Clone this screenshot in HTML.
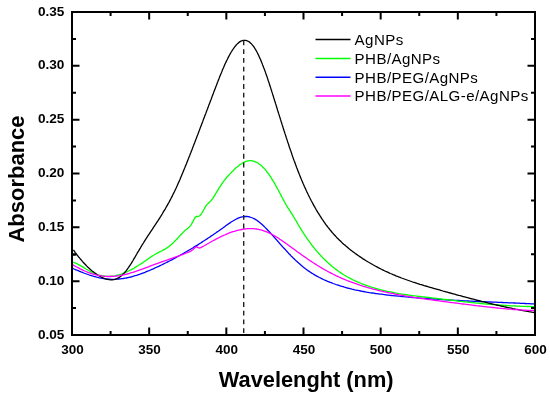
<!DOCTYPE html>
<html><head><meta charset="utf-8"><style>
html,body{margin:0;padding:0;background:#fff;}
body{width:550px;height:395px;overflow:hidden;}
svg{display:block;}
.b{font-family:"Liberation Sans",Arial,sans-serif;font-weight:bold;}
.r{font-family:"Liberation Sans",Arial,sans-serif;}
</style></head><body>
<svg width="550" height="395" viewBox="0 0 550 395">
<rect width="550" height="395" fill="#fff"/>
<g fill="none" stroke-linejoin="round" stroke-linecap="butt" stroke-width="1.3">
<path d="M72.7 268.3L74.1 269.0L75.4 269.6L76.8 270.2L78.2 270.7L79.6 271.3L81.0 271.9L82.4 272.4L83.8 273.0L85.2 273.5L86.6 274.0L88.0 274.5L89.4 275.0L90.8 275.4L92.2 275.9L93.7 276.3L95.1 276.7L96.6 277.1L98.0 277.4L99.5 277.8L101.0 278.1L102.4 278.3L103.9 278.6L105.4 278.8L106.9 278.9L108.4 279.1L109.9 279.2L111.4 279.3L112.9 279.3L114.4 279.3L115.9 279.2L117.4 279.2L118.9 279.0L120.3 278.9L121.8 278.7L123.3 278.5L124.8 278.2L126.3 278.0L127.8 277.6L129.2 277.3L130.7 277.0L132.1 276.6L133.6 276.2L135.0 275.7L136.5 275.3L137.9 274.8L139.3 274.4L140.7 273.9L142.1 273.3L143.6 272.8L145.0 272.3L146.3 271.7L147.7 271.1L149.1 270.6L150.5 270.0L151.9 269.4L153.3 268.8L154.6 268.2L156.0 267.5L157.4 266.9L158.7 266.3L160.1 265.6L161.4 265.0L162.8 264.3L164.1 263.7L165.5 263.0L166.8 262.3L168.2 261.6L169.5 261.0L170.8 260.3L172.2 259.6L173.5 258.9L174.8 258.2L176.1 257.4L177.5 256.7L178.8 256.0L180.1 255.3L181.4 254.5L182.7 253.8L184.0 253.1L185.3 252.3L186.6 251.6L187.9 250.8L189.2 250.0L190.5 249.3L191.8 248.5L193.1 247.7L194.3 246.9L195.6 246.1L196.9 245.4L198.2 244.6L199.4 243.8L200.7 243.0L202.0 242.1L203.2 241.3L204.5 240.5L205.7 239.7L207.0 238.9L208.2 238.0L209.5 237.2L210.7 236.4L212.0 235.5L213.2 234.7L214.5 233.8L215.7 233.0L216.9 232.1L218.2 231.3L219.4 230.4L220.6 229.5L221.8 228.7L223.1 227.8L224.3 226.9L225.5 226.0L226.7 225.1L227.9 224.3L229.2 223.4L230.4 222.6L231.6 221.7L232.9 221.0L234.2 220.2L235.5 219.5L236.8 218.8L238.1 218.2L239.5 217.6L240.9 217.2L242.4 216.8L243.8 216.6L245.3 216.5L246.8 216.5L248.3 216.7L249.8 217.0L251.3 217.5L252.7 218.0L254.0 218.7L255.4 219.4L256.7 220.3L257.9 221.1L259.1 222.0L260.3 223.0L261.5 224.0L262.6 225.0L263.7 226.0L264.8 227.1L265.8 228.1L266.9 229.2L267.9 230.3L269.0 231.4L270.0 232.5L271.0 233.6L272.0 234.8L273.0 235.9L274.0 237.0L275.0 238.1L276.0 239.3L277.0 240.4L278.0 241.5L279.0 242.6L279.9 243.8L280.9 244.9L281.9 246.0L282.9 247.1L284.0 248.2L285.0 249.3L286.0 250.4L287.0 251.5L288.0 252.6L289.0 253.7L290.1 254.8L291.1 255.9L292.2 256.9L293.2 258.0L294.3 259.0L295.4 260.1L296.4 261.1L297.5 262.1L298.6 263.1L299.8 264.1L300.9 265.1L302.0 266.0L303.2 267.0L304.4 267.9L305.5 268.8L306.7 269.7L307.9 270.6L309.2 271.4L310.4 272.2L311.7 273.1L312.9 273.8L314.2 274.6L315.5 275.4L316.8 276.1L318.1 276.8L319.4 277.5L320.8 278.2L322.1 278.8L323.5 279.5L324.8 280.1L326.2 280.7L327.6 281.3L329.0 281.8L330.3 282.4L331.7 282.9L333.1 283.5L334.6 284.0L336.0 284.5L337.4 284.9L338.8 285.4L340.2 285.9L341.7 286.3L343.1 286.7L344.5 287.2L346.0 287.6L347.4 288.0L348.9 288.3L350.3 288.7L351.8 289.1L353.2 289.4L354.7 289.8L356.2 290.1L357.6 290.4L359.1 290.7L360.6 291.0L362.0 291.3L363.5 291.5L365.0 291.8L366.5 292.1L367.9 292.3L369.4 292.6L370.9 292.8L372.4 293.0L373.9 293.2L375.4 293.5L376.8 293.7L378.3 293.9L379.8 294.1L381.3 294.2L382.8 294.4L384.3 294.6L385.8 294.8L387.3 295.0L388.7 295.1L390.2 295.3L391.7 295.5L393.2 295.6L394.7 295.8L396.2 295.9L397.7 296.1L399.2 296.2L400.7 296.4L402.2 296.5L403.7 296.7L405.2 296.8L406.7 296.9L408.2 297.1L409.6 297.2L411.1 297.3L412.6 297.5L414.1 297.6L415.6 297.7L417.1 297.8L418.6 298.0L420.1 298.1L421.6 298.2L423.1 298.3L424.6 298.4L426.1 298.5L427.6 298.6L429.1 298.7L430.6 298.8L432.1 298.9L433.6 299.0L435.1 299.1L436.6 299.2L438.1 299.3L439.6 299.4L441.1 299.5L442.6 299.6L444.1 299.7L445.5 299.8L447.0 299.9L448.5 300.0L450.0 300.1L451.5 300.1L453.0 300.2L454.5 300.3L456.0 300.4L457.5 300.5L459.0 300.5L460.5 300.6L462.0 300.7L463.5 300.8L465.0 300.8L466.5 300.9L468.0 301.0L469.5 301.1L471.0 301.1L472.5 301.2L474.0 301.3L475.5 301.3L477.0 301.4L478.5 301.5L480.0 301.5L481.5 301.6L483.0 301.7L484.5 301.7L486.0 301.8L487.5 301.9L489.0 301.9L490.5 302.0L492.0 302.1L493.5 302.1L495.0 302.2L496.5 302.2L498.0 302.3L499.5 302.4L501.0 302.4L502.5 302.5L504.0 302.6L505.5 302.6L507.0 302.7L508.5 302.8L510.0 302.8L511.5 302.9L513.0 302.9L514.5 303.0L516.0 303.1L517.5 303.1L519.0 303.2L520.5 303.3L522.0 303.3L523.5 303.4L525.0 303.5L526.5 303.6L528.0 303.6L529.5 303.7L531.0 303.8L532.5 303.8L534.0 303.9L534.1 303.9" stroke="#0000ff"/>
<path d="M72.7 262.0L74.1 262.5L75.5 263.1L76.9 263.7L78.2 264.4L79.6 265.1L80.9 265.9L82.2 266.6L83.5 267.4L84.7 268.2L86.0 269.0L87.3 269.7L88.6 270.5L89.9 271.2L91.2 271.9L92.5 272.6L93.9 273.2L95.3 273.8L96.7 274.3L98.1 274.8L99.5 275.2L101.0 275.5L102.4 275.8L103.9 276.0L105.4 276.2L106.9 276.3L108.4 276.3L109.9 276.3L111.4 276.2L112.9 276.1L114.4 275.9L115.8 275.6L117.3 275.2L118.8 274.9L120.2 274.4L121.6 274.0L123.1 273.4L124.5 272.9L125.8 272.3L127.2 271.7L128.6 271.0L129.9 270.3L131.3 269.6L132.6 268.9L133.9 268.2L135.2 267.4L136.5 266.6L137.8 265.8L139.0 265.0L140.3 264.2L141.6 263.4L142.8 262.6L144.0 261.7L145.3 260.9L146.5 260.0L147.7 259.1L149.0 258.3L150.2 257.4L151.5 256.6L152.7 255.8L154.0 255.0L155.2 254.2L156.5 253.5L157.8 252.8L159.2 252.1L160.5 251.5L161.9 250.8L163.2 250.1L164.6 249.4L165.9 248.6L167.1 247.8L168.4 246.9L169.6 246.0L170.7 245.0L171.9 244.0L173.0 243.0L174.1 241.9L175.1 240.8L176.2 239.8L177.2 238.7L178.2 237.6L179.3 236.4L180.3 235.3L181.3 234.2L182.3 233.2L183.4 232.1L184.4 231.1L185.5 230.1L186.7 229.2L187.9 228.2L189.0 227.2L190.1 226.1L191.1 224.8L191.9 223.4L192.6 222.1L193.3 220.7L194.0 219.4L194.7 218.1L195.5 217.0L196.5 216.4L198.0 216.5L199.5 216.0L200.7 214.8L201.6 213.5L202.4 212.1L203.2 210.8L203.9 209.5L204.6 208.2L205.4 206.9L206.1 205.7L207.0 204.6L208.0 203.6L209.1 202.6L210.2 201.5L211.2 200.4L212.2 199.1L213.1 197.9L213.9 196.6L214.7 195.3L215.5 194.0L216.3 192.7L217.1 191.4L217.9 190.2L218.6 188.9L219.4 187.6L220.2 186.3L221.0 185.1L221.8 183.8L222.6 182.6L223.5 181.4L224.4 180.3L225.3 179.1L226.2 178.0L227.2 176.8L228.2 175.7L229.2 174.6L230.2 173.6L231.3 172.5L232.3 171.4L233.4 170.4L234.5 169.3L235.5 168.3L236.7 167.3L237.8 166.4L239.0 165.5L240.1 164.6L241.4 163.8L242.6 163.0L243.9 162.3L245.3 161.7L246.7 161.2L248.1 160.9L249.6 160.7L251.1 160.7L252.6 160.9L254.1 161.3L255.5 161.8L256.9 162.5L258.2 163.3L259.4 164.2L260.7 165.1L261.8 166.1L262.9 167.2L264.0 168.3L265.0 169.4L266.0 170.6L266.9 171.8L267.9 173.0L268.8 174.2L269.6 175.5L270.5 176.7L271.3 178.0L272.1 179.3L272.9 180.6L273.7 181.9L274.5 183.2L275.2 184.5L275.9 185.8L276.7 187.1L277.4 188.5L278.1 189.8L278.8 191.1L279.5 192.5L280.2 193.8L280.9 195.1L281.6 196.4L282.3 197.8L283.0 199.1L283.7 200.4L284.4 201.7L285.1 203.0L285.8 204.3L286.6 205.6L287.4 206.8L288.1 208.1L289.0 209.4L289.8 210.6L290.6 211.9L291.4 213.1L292.2 214.4L293.0 215.7L293.8 217.0L294.6 218.3L295.3 219.6L296.1 220.9L296.8 222.2L297.6 223.5L298.3 224.8L299.1 226.1L299.9 227.3L300.6 228.6L301.4 229.9L302.2 231.2L303.0 232.4L303.8 233.7L304.6 234.9L305.5 236.1L306.3 237.4L307.1 238.6L308.0 239.8L308.9 241.0L309.7 242.2L310.6 243.4L311.5 244.6L312.4 245.8L313.4 247.0L314.3 248.2L315.2 249.3L316.2 250.5L317.2 251.6L318.1 252.7L319.1 253.8L320.1 254.9L321.1 256.0L322.2 257.1L323.2 258.2L324.3 259.2L325.3 260.3L326.4 261.3L327.5 262.3L328.6 263.3L329.7 264.3L330.8 265.3L332.0 266.3L333.1 267.2L334.3 268.1L335.5 269.1L336.7 269.9L337.9 270.8L339.1 271.7L340.3 272.5L341.6 273.4L342.8 274.2L344.1 275.0L345.4 275.7L346.7 276.5L348.0 277.2L349.3 277.9L350.6 278.6L351.9 279.3L353.3 280.0L354.6 280.6L356.0 281.2L357.3 281.9L358.7 282.4L360.1 283.0L361.5 283.6L362.9 284.1L364.3 284.7L365.7 285.2L367.1 285.7L368.5 286.2L369.9 286.6L371.4 287.1L372.8 287.5L374.2 288.0L375.7 288.4L377.1 288.8L378.5 289.2L380.0 289.6L381.4 290.0L382.9 290.3L384.4 290.7L385.8 291.0L387.3 291.3L388.7 291.6L390.2 291.9L391.7 292.2L393.1 292.5L394.6 292.8L396.1 293.1L397.6 293.3L399.1 293.6L400.5 293.8L402.0 294.1L403.5 294.3L405.0 294.5L406.5 294.7L407.9 295.0L409.4 295.2L410.9 295.4L412.4 295.6L413.9 295.8L415.4 295.9L416.9 296.1L418.4 296.3L419.8 296.5L421.3 296.7L422.8 296.8L424.3 297.0L425.8 297.2L427.3 297.4L428.8 297.5L430.3 297.7L431.8 297.9L433.2 298.1L434.7 298.2L436.2 298.4L437.7 298.6L439.2 298.8L440.7 299.0L442.2 299.1L443.7 299.3L445.2 299.5L446.7 299.7L448.1 299.9L449.6 300.0L451.1 300.2L452.6 300.4L454.1 300.6L455.6 300.7L457.1 300.9L458.6 301.1L460.1 301.3L461.5 301.4L463.0 301.6L464.5 301.8L466.0 301.9L467.5 302.1L469.0 302.3L470.5 302.4L472.0 302.6L473.5 302.7L475.0 302.9L476.5 303.1L478.0 303.2L479.4 303.4L480.9 303.5L482.4 303.6L483.9 303.8L485.4 303.9L486.9 304.1L488.4 304.2L489.9 304.3L491.4 304.4L492.9 304.6L494.4 304.7L495.9 304.8L497.4 304.9L498.9 305.0L500.4 305.1L501.9 305.2L503.4 305.3L504.9 305.4L506.4 305.5L507.9 305.6L509.3 305.7L510.8 305.8L512.3 305.9L513.8 305.9L515.3 306.0L516.8 306.1L518.3 306.2L519.8 306.2L521.3 306.3L522.8 306.3L524.3 306.4L525.8 306.4L527.3 306.5L528.8 306.5L530.3 306.5L531.8 306.6L533.3 306.6L534.1 306.6" stroke="#00ff00"/>
<path d="M73.4 249.8L74.3 251.1L75.1 252.3L76.0 253.5L76.9 254.6L77.8 255.8L78.7 257.0L79.7 258.2L80.6 259.3L81.6 260.4L82.6 261.6L83.6 262.7L84.6 263.8L85.6 264.8L86.6 265.9L87.7 267.0L88.8 268.0L89.9 269.0L91.0 270.0L92.1 270.9L93.3 271.8L94.5 272.8L95.7 273.6L96.9 274.5L98.1 275.3L99.4 276.0L100.7 276.8L102.0 277.4L103.4 278.0L104.8 278.6L106.2 279.1L107.6 279.4L109.1 279.7L110.6 279.8L112.1 279.8L113.6 279.6L115.0 279.3L116.5 278.8L117.9 278.2L119.2 277.4L120.5 276.5L121.7 275.5L122.8 274.5L123.9 273.4L124.9 272.2L125.9 271.1L126.8 269.8L127.7 268.6L128.6 267.4L129.4 266.1L130.3 264.8L131.1 263.6L131.9 262.3L132.7 261.0L133.4 259.7L134.2 258.4L135.0 257.1L135.7 255.8L136.5 254.5L137.2 253.2L138.0 251.9L138.8 250.6L139.5 249.4L140.3 248.1L141.0 246.8L141.8 245.5L142.6 244.2L143.4 243.0L144.2 241.7L145.0 240.4L145.8 239.2L146.6 237.9L147.4 236.7L148.2 235.4L149.1 234.2L149.9 232.9L150.7 231.7L151.6 230.4L152.4 229.2L153.2 227.9L154.0 226.7L154.9 225.4L155.7 224.2L156.5 222.9L157.3 221.6L158.2 220.4L159.0 219.1L159.8 217.8L160.6 216.6L161.4 215.3L162.2 214.0L162.9 212.7L163.7 211.4L164.5 210.1L165.3 208.8L166.0 207.5L166.8 206.2L167.5 204.9L168.2 203.6L169.0 202.3L169.7 200.9L170.4 199.6L171.1 198.3L171.8 196.9L172.5 195.6L173.1 194.2L173.8 192.9L174.5 191.5L175.1 190.2L175.8 188.8L176.4 187.4L177.0 186.1L177.6 184.7L178.2 183.3L178.9 181.9L179.5 180.5L180.1 179.2L180.6 177.8L181.2 176.4L181.8 175.0L182.4 173.6L183.0 172.2L183.5 170.8L184.1 169.4L184.7 168.0L185.2 166.7L185.8 165.3L186.4 163.9L186.9 162.5L187.5 161.1L188.0 159.7L188.6 158.3L189.1 156.9L189.7 155.5L190.2 154.1L190.8 152.7L191.3 151.3L191.9 149.9L192.4 148.5L192.9 147.1L193.5 145.7L194.0 144.3L194.6 142.9L195.1 141.5L195.6 140.1L196.2 138.7L196.7 137.3L197.2 135.9L197.8 134.5L198.3 133.1L198.8 131.7L199.4 130.3L199.9 128.9L200.4 127.5L201.0 126.1L201.5 124.7L202.0 123.3L202.6 121.9L203.1 120.4L203.6 119.0L204.2 117.6L204.7 116.2L205.2 114.8L205.8 113.4L206.3 112.0L206.8 110.6L207.4 109.2L207.9 107.8L208.4 106.4L208.9 105.0L209.5 103.6L210.0 102.2L210.5 100.8L211.1 99.4L211.6 98.0L212.1 96.6L212.6 95.2L213.2 93.8L213.7 92.4L214.2 91.0L214.8 89.6L215.3 88.2L215.8 86.8L216.4 85.4L216.9 84.0L217.4 82.6L218.0 81.2L218.5 79.8L219.1 78.4L219.6 77.0L220.2 75.6L220.7 74.2L221.3 72.9L221.9 71.5L222.4 70.1L223.0 68.7L223.6 67.4L224.2 66.0L224.8 64.6L225.4 63.3L226.1 61.9L226.7 60.6L227.4 59.3L228.0 57.9L228.7 56.6L229.4 55.3L230.1 54.0L230.8 52.7L231.6 51.5L232.4 50.2L233.2 49.0L234.0 47.8L234.9 46.6L235.8 45.5L236.8 44.4L237.8 43.4L238.9 42.4L240.1 41.6L241.4 40.9L242.8 40.5L244.2 40.3L245.7 40.4L247.2 40.8L248.6 41.5L249.9 42.4L251.0 43.4L252.1 44.6L253.1 45.8L254.0 47.0L254.8 48.3L255.6 49.7L256.4 51.0L257.1 52.3L257.8 53.7L258.5 55.1L259.1 56.5L259.7 57.9L260.4 59.2L260.9 60.6L261.5 62.0L262.1 63.4L262.6 64.9L263.2 66.3L263.7 67.7L264.3 69.1L264.8 70.5L265.3 71.9L265.8 73.4L266.3 74.8L266.8 76.2L267.3 77.6L267.8 79.1L268.2 80.5L268.7 81.9L269.2 83.3L269.6 84.8L270.1 86.2L270.6 87.6L271.0 89.1L271.5 90.5L271.9 91.9L272.4 93.4L272.8 94.8L273.3 96.2L273.7 97.7L274.2 99.1L274.6 100.5L275.1 102.0L275.5 103.4L276.0 104.8L276.4 106.3L276.9 107.7L277.3 109.1L277.7 110.6L278.2 112.0L278.6 113.4L279.1 114.9L279.5 116.3L280.0 117.7L280.4 119.2L280.9 120.6L281.3 122.0L281.8 123.5L282.2 124.9L282.7 126.3L283.1 127.7L283.6 129.2L284.0 130.6L284.5 132.0L284.9 133.4L285.4 134.9L285.9 136.3L286.3 137.7L286.8 139.1L287.3 140.6L287.7 142.0L288.2 143.4L288.7 144.8L289.1 146.2L289.6 147.7L290.1 149.1L290.6 150.5L291.1 151.9L291.6 153.3L292.0 154.7L292.5 156.1L293.0 157.6L293.5 159.0L294.0 160.4L294.6 161.8L295.1 163.2L295.6 164.6L296.1 166.0L296.6 167.4L297.2 168.8L297.7 170.2L298.2 171.6L298.8 173.0L299.3 174.3L299.9 175.7L300.4 177.1L301.0 178.5L301.6 179.9L302.2 181.2L302.7 182.6L303.3 184.0L303.9 185.3L304.5 186.7L305.2 188.1L305.8 189.4L306.4 190.8L307.0 192.1L307.7 193.5L308.3 194.8L309.0 196.2L309.6 197.5L310.3 198.8L311.0 200.2L311.7 201.5L312.4 202.8L313.1 204.1L313.8 205.4L314.5 206.7L315.3 208.0L316.0 209.3L316.8 210.6L317.5 211.9L318.3 213.1L319.1 214.4L319.9 215.7L320.7 216.9L321.5 218.2L322.3 219.4L323.2 220.6L324.0 221.9L324.9 223.1L325.7 224.3L326.6 225.5L327.5 226.7L328.4 227.8L329.4 229.0L330.3 230.2L331.3 231.3L332.2 232.5L333.2 233.6L334.2 234.7L335.2 235.8L336.2 236.9L337.2 238.0L338.3 239.0L339.3 240.1L340.4 241.1L341.5 242.1L342.6 243.2L343.7 244.2L344.8 245.1L345.9 246.1L347.1 247.1L348.2 248.0L349.4 249.0L350.6 249.9L351.7 250.8L352.9 251.7L354.1 252.6L355.3 253.5L356.6 254.4L357.8 255.2L359.0 256.1L360.2 256.9L361.5 257.8L362.7 258.6L364.0 259.4L365.3 260.2L366.5 261.0L367.8 261.8L369.1 262.5L370.4 263.3L371.7 264.0L373.0 264.8L374.3 265.5L375.6 266.2L376.9 266.9L378.2 267.6L379.6 268.3L380.9 269.0L382.2 269.7L383.6 270.3L384.9 271.0L386.3 271.6L387.7 272.2L389.0 272.8L390.4 273.5L391.8 274.0L393.1 274.6L394.5 275.2L395.9 275.8L397.3 276.3L398.7 276.9L400.1 277.4L401.5 278.0L402.9 278.5L404.3 279.0L405.7 279.5L407.1 280.0L408.5 280.5L409.9 281.0L411.4 281.5L412.8 282.0L414.2 282.4L415.6 282.9L417.1 283.4L418.5 283.8L419.9 284.3L421.4 284.7L422.8 285.1L424.2 285.6L425.7 286.0L427.1 286.4L428.5 286.9L430.0 287.3L431.4 287.7L432.9 288.1L434.3 288.5L435.7 288.9L437.2 289.3L438.6 289.7L440.1 290.1L441.5 290.5L443.0 291.0L444.4 291.4L445.9 291.8L447.3 292.2L448.7 292.6L450.2 293.0L451.6 293.4L453.1 293.8L454.5 294.2L456.0 294.6L457.4 295.0L458.9 295.4L460.3 295.7L461.8 296.1L463.2 296.5L464.7 296.9L466.1 297.3L467.6 297.7L469.0 298.1L470.5 298.5L471.9 298.8L473.4 299.2L474.8 299.6L476.3 300.0L477.7 300.3L479.2 300.7L480.6 301.1L482.1 301.5L483.5 301.8L485.0 302.2L486.4 302.5L487.9 302.9L489.3 303.3L490.8 303.6L492.3 304.0L493.7 304.3L495.2 304.7L496.6 305.0L498.1 305.3L499.6 305.7L501.0 306.0L502.5 306.3L504.0 306.7L505.4 307.0L506.9 307.3L508.3 307.6L509.8 307.9L511.3 308.2L512.8 308.6L514.2 308.9L515.7 309.2L517.2 309.4L518.6 309.7L520.1 310.0L521.6 310.3L523.0 310.6L524.5 310.9L526.0 311.1L527.5 311.4L528.9 311.7L530.4 311.9L531.9 312.2L533.4 312.4L534.1 312.5" stroke="#000"/>
<path d="M72.7 264.8L74.0 265.6L75.3 266.3L76.6 267.0L77.9 267.7L79.3 268.4L80.6 269.1L81.9 269.7L83.3 270.4L84.7 271.0L86.1 271.5L87.4 272.1L88.8 272.6L90.2 273.1L91.7 273.6L93.1 274.0L94.5 274.4L96.0 274.8L97.4 275.2L98.9 275.5L100.4 275.7L101.8 276.0L103.3 276.2L104.8 276.3L106.3 276.4L107.8 276.5L109.3 276.5L110.8 276.5L112.3 276.4L113.8 276.3L115.3 276.2L116.8 276.0L118.3 275.8L119.8 275.6L121.2 275.3L122.7 275.0L124.2 274.7L125.6 274.3L127.1 274.0L128.6 273.6L130.0 273.2L131.4 272.7L132.9 272.3L134.3 271.8L135.7 271.4L137.2 270.9L138.6 270.4L140.0 269.9L141.4 269.4L142.8 268.9L144.2 268.3L145.6 267.8L147.0 267.3L148.4 266.8L149.8 266.2L151.2 265.7L152.6 265.2L154.0 264.6L155.5 264.1L156.9 263.6L158.3 263.1L159.7 262.6L161.1 262.1L162.5 261.6L163.9 261.1L165.4 260.6L166.8 260.2L168.2 259.7L169.6 259.2L171.0 258.7L172.4 258.2L173.9 257.7L175.3 257.2L176.7 256.7L178.1 256.2L179.5 255.7L180.9 255.1L182.3 254.6L183.7 254.1L185.1 253.5L186.5 253.0L187.9 252.4L189.3 251.8L190.7 251.1L192.0 250.3L193.2 249.4L194.3 248.3L195.4 247.2L196.5 246.6L198.0 247.6L199.2 248.0L200.7 247.6L202.1 246.9L203.4 246.2L204.7 245.5L206.0 244.7L207.3 244.0L208.6 243.2L209.9 242.5L211.2 241.7L212.5 241.0L213.8 240.3L215.2 239.6L216.5 238.9L217.8 238.2L219.2 237.5L220.5 236.9L221.8 236.2L223.2 235.6L224.6 235.0L225.9 234.4L227.3 233.8L228.7 233.2L230.1 232.7L231.5 232.2L232.9 231.7L234.3 231.3L235.8 230.8L237.2 230.4L238.7 230.1L240.1 229.8L241.6 229.5L243.1 229.2L244.6 229.0L246.0 228.8L247.5 228.7L249.0 228.6L250.5 228.6L252.0 228.7L253.5 228.7L255.0 228.9L256.5 229.0L258.0 229.3L259.5 229.6L261.0 229.9L262.4 230.3L263.8 230.8L265.3 231.3L266.7 231.8L268.1 232.4L269.4 233.1L270.8 233.7L272.1 234.5L273.4 235.2L274.7 235.9L276.0 236.7L277.3 237.5L278.6 238.3L279.8 239.2L281.1 240.0L282.3 240.9L283.5 241.7L284.8 242.6L286.0 243.5L287.2 244.3L288.4 245.2L289.6 246.1L290.9 247.0L292.1 247.9L293.3 248.7L294.5 249.6L295.7 250.5L296.9 251.4L298.1 252.3L299.4 253.1L300.6 254.0L301.8 254.9L303.0 255.8L304.2 256.6L305.5 257.5L306.7 258.3L307.9 259.2L309.2 260.0L310.4 260.9L311.7 261.7L312.9 262.5L314.2 263.3L315.4 264.1L316.7 265.0L317.9 265.7L319.2 266.5L320.5 267.3L321.8 268.1L323.1 268.8L324.4 269.6L325.7 270.3L327.0 271.0L328.3 271.7L329.6 272.4L331.0 273.1L332.3 273.8L333.6 274.5L335.0 275.1L336.3 275.8L337.7 276.4L339.0 277.0L340.4 277.6L341.8 278.3L343.2 278.8L344.5 279.4L345.9 280.0L347.3 280.6L348.7 281.1L350.1 281.7L351.5 282.2L352.9 282.7L354.3 283.2L355.7 283.7L357.1 284.2L358.6 284.7L360.0 285.2L361.4 285.6L362.8 286.1L364.3 286.5L365.7 286.9L367.1 287.4L368.6 287.8L370.0 288.2L371.5 288.6L372.9 289.0L374.4 289.4L375.8 289.7L377.3 290.1L378.7 290.5L380.2 290.8L381.6 291.2L383.1 291.5L384.6 291.8L386.0 292.2L387.5 292.5L389.0 292.8L390.4 293.1L391.9 293.4L393.4 293.7L394.8 294.0L396.3 294.3L397.8 294.6L399.2 294.9L400.7 295.1L402.2 295.4L403.7 295.7L405.2 295.9L406.6 296.2L408.1 296.4L409.6 296.7L411.1 296.9L412.6 297.1L414.0 297.4L415.5 297.6L417.0 297.8L418.5 298.0L420.0 298.3L421.4 298.5L422.9 298.7L424.4 298.9L425.9 299.1L427.4 299.3L428.9 299.5L430.4 299.7L431.8 299.9L433.3 300.1L434.8 300.3L436.3 300.5L437.8 300.7L439.3 300.9L440.8 301.1L442.3 301.3L443.7 301.5L445.2 301.7L446.7 301.9L448.2 302.1L449.7 302.3L451.2 302.5L452.7 302.6L454.2 302.8L455.6 303.0L457.1 303.2L458.6 303.4L460.1 303.6L461.6 303.8L463.1 304.0L464.6 304.2L466.1 304.4L467.5 304.6L469.0 304.7L470.5 304.9L472.0 305.1L473.5 305.3L475.0 305.5L476.5 305.7L478.0 305.8L479.5 306.0L480.9 306.2L482.4 306.4L483.9 306.6L485.4 306.7L486.9 306.9L488.4 307.1L489.9 307.2L491.4 307.4L492.9 307.5L494.4 307.7L495.9 307.9L497.3 308.0L498.8 308.2L500.3 308.3L501.8 308.4L503.3 308.6L504.8 308.7L506.3 308.9L507.8 309.0L509.3 309.1L510.8 309.2L512.3 309.4L513.8 309.5L515.3 309.6L516.8 309.7L518.3 309.8L519.8 309.9L521.3 310.0L522.8 310.1L524.3 310.1L525.8 310.2L527.3 310.3L528.8 310.4L530.2 310.4L531.7 310.5L533.2 310.5L534.1 310.6" stroke="#ff00ff"/>
<path d="M73 255.2L76.5 254.8" stroke="#000"/>
<path d="M243.7 40.5V334" stroke="#222" stroke-width="1.4" stroke-dasharray="4.8 3.92"/>
</g>
<g fill="none" stroke="#000" stroke-width="2">
<rect x="72.0" y="12.0" width="463.0" height="323.0"/>
<path d="M149.17 335.00V327.50M149.17 12.00V19.50M226.33 335.00V327.50M226.33 12.00V19.50M303.50 335.00V327.50M303.50 12.00V19.50M380.67 335.00V327.50M380.67 12.00V19.50M457.83 335.00V327.50M457.83 12.00V19.50M110.58 335.00V331.00M110.58 12.00V16.00M187.75 335.00V331.00M187.75 12.00V16.00M264.92 335.00V331.00M264.92 12.00V16.00M342.08 335.00V331.00M342.08 12.00V16.00M419.25 335.00V331.00M419.25 12.00V16.00M496.42 335.00V331.00M496.42 12.00V16.00M72.00 281.17H79.50M535.00 281.17H527.50M72.00 227.33H79.50M535.00 227.33H527.50M72.00 173.50H79.50M535.00 173.50H527.50M72.00 119.67H79.50M535.00 119.67H527.50M72.00 65.83H79.50M535.00 65.83H527.50M72.00 308.08H76.00M535.00 308.08H531.00M72.00 254.25H76.00M535.00 254.25H531.00M72.00 200.42H76.00M535.00 200.42H531.00M72.00 146.58H76.00M535.00 146.58H531.00M72.00 92.75H76.00M535.00 92.75H531.00M72.00 38.92H76.00M535.00 38.92H531.00"/>
</g>
<g class="b" font-size="13.6" text-anchor="end" fill="#000"><text x="64.4" y="338.5">0.05</text><text x="64.4" y="284.7">0.10</text><text x="64.4" y="230.8">0.15</text><text x="64.4" y="177.0">0.20</text><text x="64.4" y="123.2">0.25</text><text x="64.4" y="69.3">0.30</text><text x="64.4" y="15.5">0.35</text></g>
<g class="b" font-size="13.5" text-anchor="middle" fill="#000"><text x="72.4" y="353.5">300</text><text x="149.6" y="353.5">350</text><text x="226.7" y="353.5">400</text><text x="303.9" y="353.5">450</text><text x="381.1" y="353.5">500</text><text x="458.2" y="353.5">550</text><text x="535.4" y="353.5">600</text></g>
<text class="b" x="306.2" y="386.5" font-size="21.8" text-anchor="middle" fill="#000">Wavelenght (nm)</text>
<text class="b" transform="translate(23.5 179) rotate(-90)" font-size="22" text-anchor="middle" fill="#000">Absorbance</text>
<g class="r" font-size="15.1" letter-spacing="0.42" fill="#000"><path d="M315.5 39.6H350.5" stroke="#000000" stroke-width="1.5"/><text x="354.6" y="44.8">AgNPs</text><path d="M315.5 58.5H350.5" stroke="#00ff00" stroke-width="1.5"/><text x="354.6" y="63.7">PHB/AgNPs</text><path d="M315.5 77.3H350.5" stroke="#0000ff" stroke-width="1.5"/><text x="354.6" y="82.5">PHB/PEG/AgNPs</text><path d="M315.5 96.1H350.5" stroke="#ff00ff" stroke-width="1.5"/><text x="354.6" y="101.3">PHB/PEG/ALG-e/AgNPs</text></g>
</svg>
</body></html>
